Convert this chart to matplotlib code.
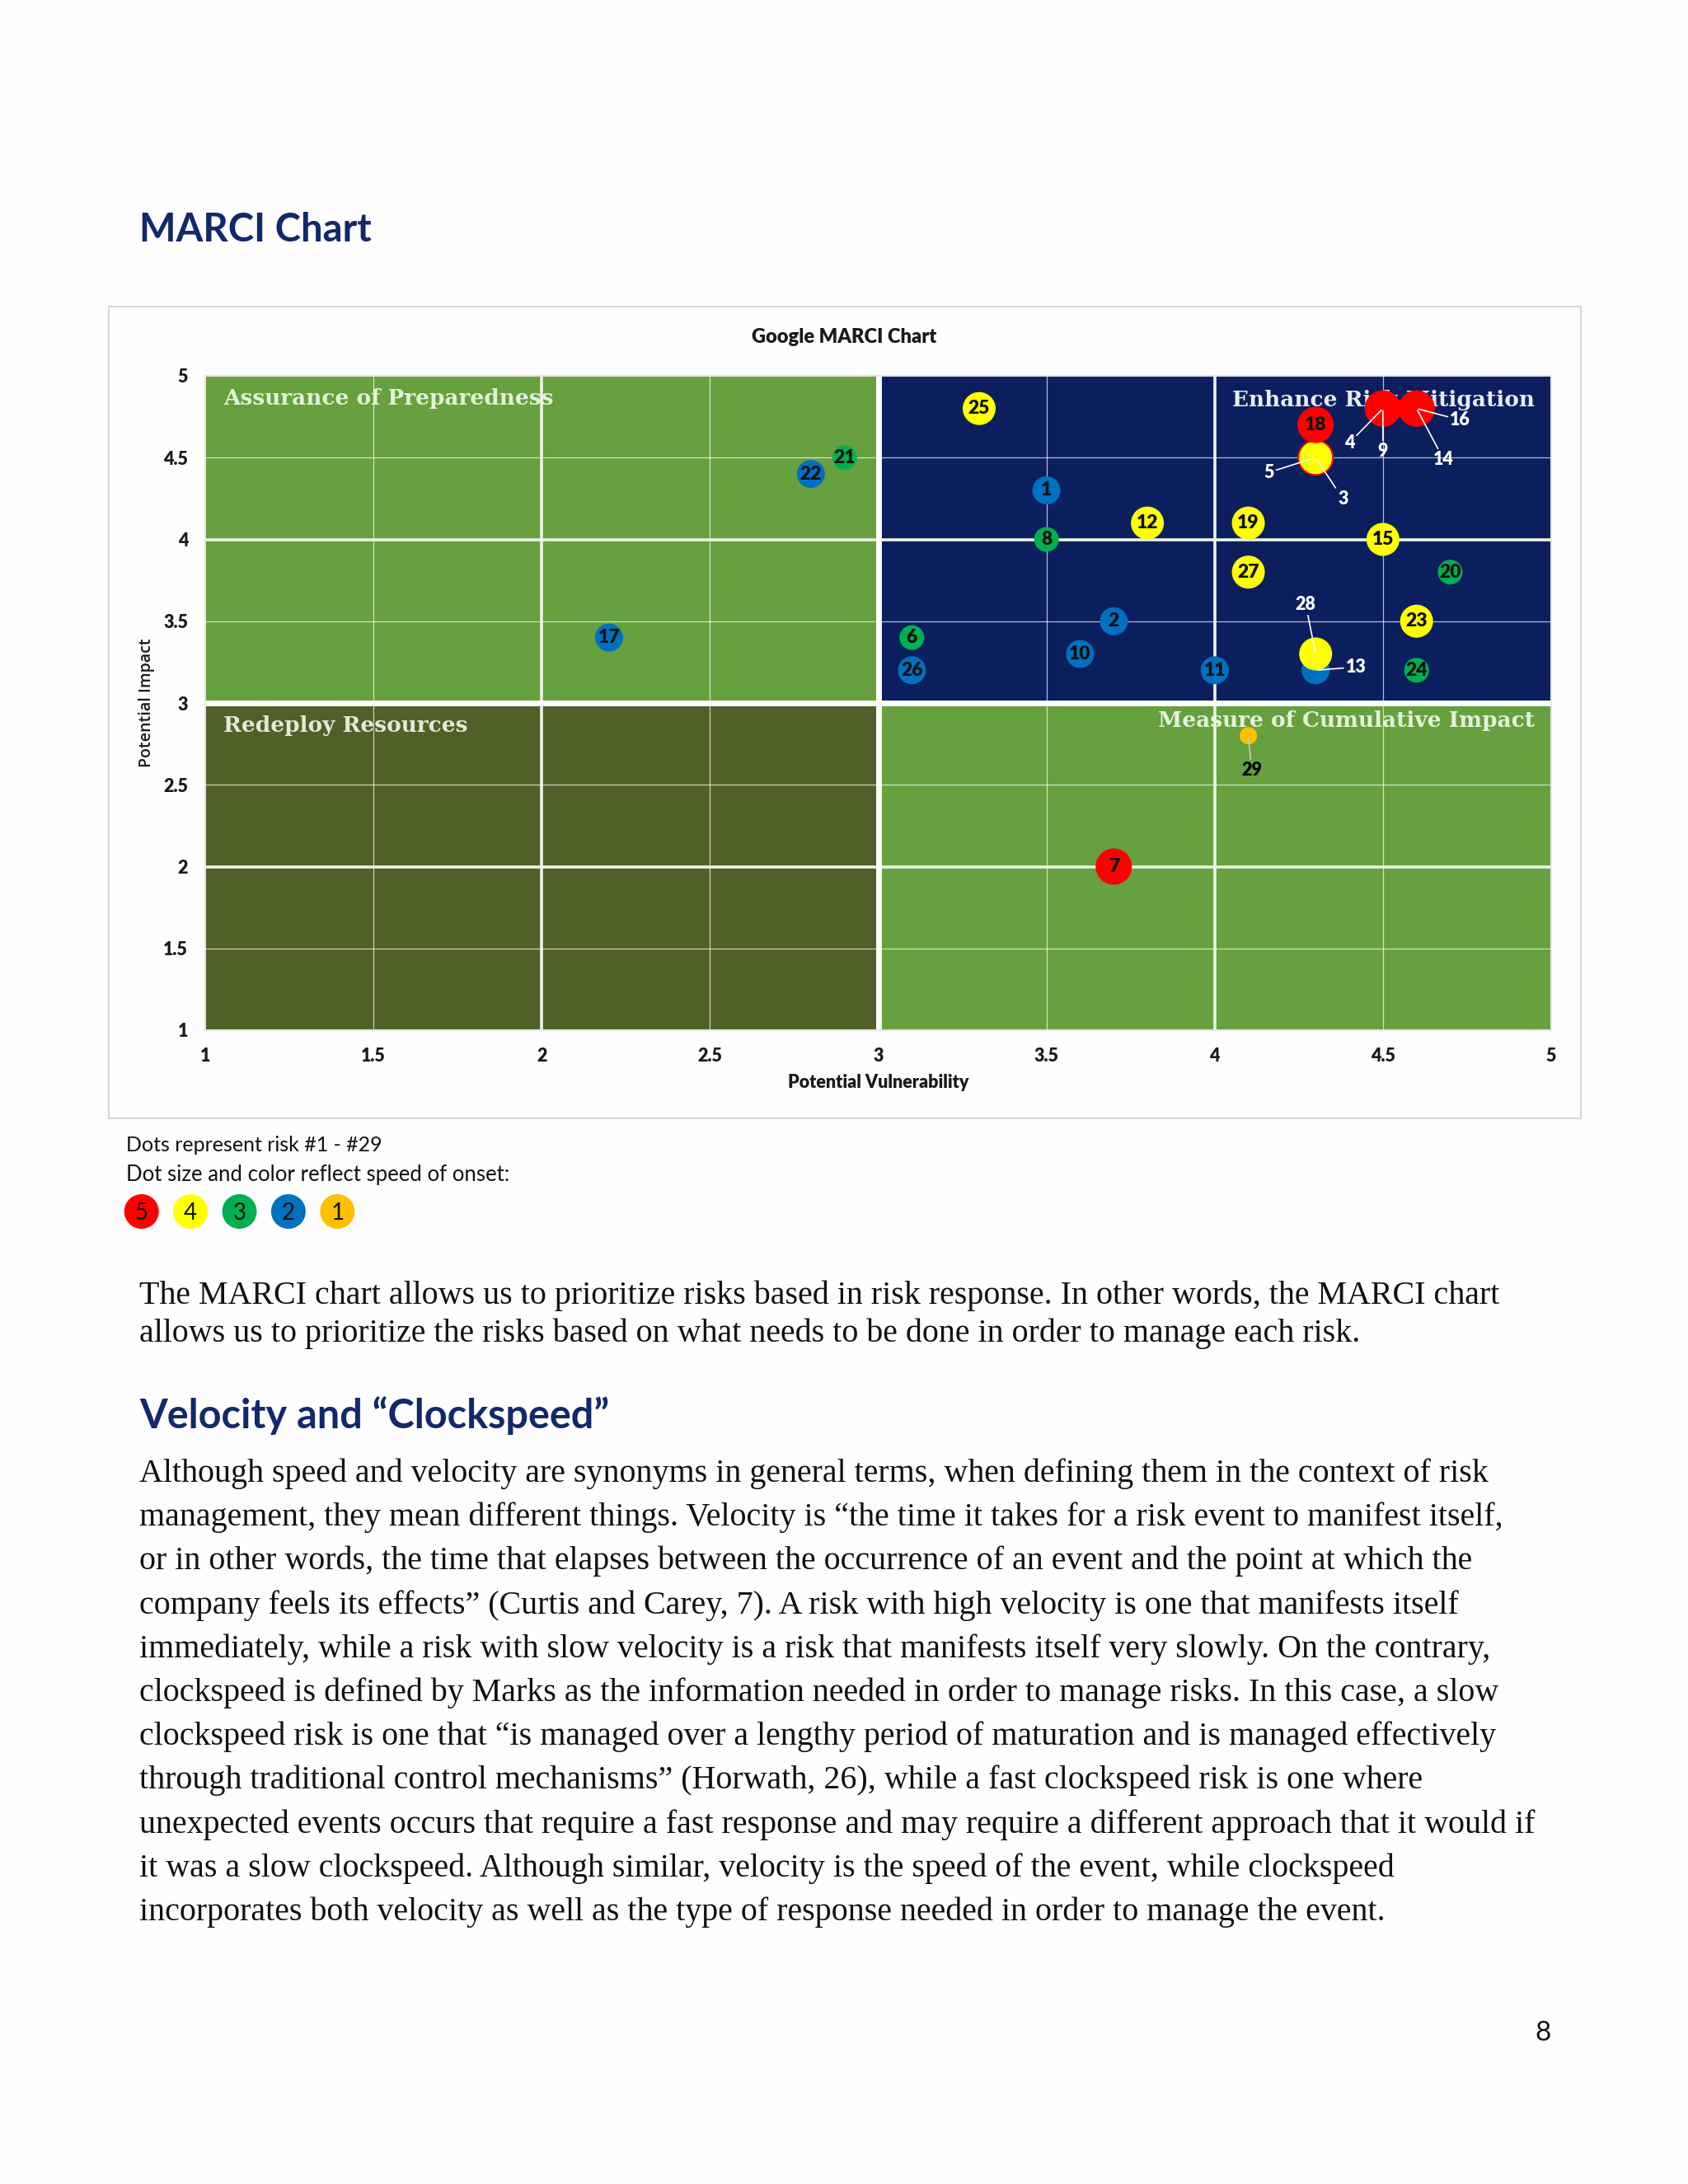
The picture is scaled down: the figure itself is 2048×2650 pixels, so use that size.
import numpy as np
import matplotlib.pyplot as plt
from matplotlib.patches import Rectangle

W, H = 2048, 2650

# --- data ---
risk_ids = list(range(1, 30))
vulnerability = [3.5, 3.7, 4.3, 4.5, 4.3, 3.1, 3.7, 3.5, 4.5, 3.6, 4.0, 3.8, 4.3, 4.6, 4.5,
                 4.6, 2.2, 4.3, 4.1, 4.7, 2.9, 2.8, 4.6, 4.6, 3.3, 3.1, 4.1, 4.3, 4.1]
impact = [4.3, 3.5, 4.5, 4.8, 4.5, 3.4, 2.0, 4.0, 4.8, 3.3, 3.2, 4.1, 3.2, 4.8, 4.0,
          4.8, 3.4, 4.7, 4.1, 3.8, 4.5, 4.4, 3.5, 3.2, 4.8, 3.2, 3.8, 3.3, 2.8]
speed = [2, 2, 5, 5, 4, 3, 5, 3, 5, 2, 2, 4, 2, 5, 4,
         5, 2, 5, 4, 3, 3, 2, 4, 3, 4, 2, 4, 4, 1]
legend_speeds = [5, 4, 3, 2, 1]
ticks = [1, 1.5, 2, 2.5, 3, 3.5, 4, 4.5, 5]
tick_labels = ['1', '1.5', '2', '2.5', '3', '3.5', '4', '4.5', '5']

# --- styles ---
speed_color = {5: '#ff0000', 4: '#ffff00', 3: '#00b050', 2: '#0070c0', 1: '#ffc000'}
speed_diam = {5: 44, 4: 40, 3: 30, 2: 34, 1: 21}   # px
NAVY = '#13286b'
SANS = ['Lato', 'DejaVu Sans']

# labels drawn outside the dot (offset in px, text colour)
callouts = {3: (33, -50, 'white'), 4: (-41, -42, 'white'), 5: (-57, -18, 'white'),
            9: (0, -52, 'white'), 13: (49, 4, 'white'), 14: (33, -62, 'white'),
            16: (53, -14, 'white'), 28: (-12, 60, 'white'), 29: (4, -42, 'black')}

plt.rcParams['font.family'] = SANS


def fx(x):
    return x / W


def fy(y):
    return 1 - y / H


fig = plt.figure(figsize=(W / 100, H / 100), dpi=100, facecolor='#fefefe')

# page heading
fig.text(fx(169), fy(293), 'MARCI Chart', fontsize=34, fontweight='bold', color=NAVY, va='baseline')

# chart frame
fig.add_artist(Rectangle((fx(132), fy(1357)), (1918 - 132) / W, (1357 - 372) / H,
                         transform=fig.transFigure, fill=False, ec='#d6d6d6', lw=1.5))
fig.text(fx(1024), fy(416), 'Google MARCI Chart', fontsize=17,
         fontweight='heavy', ha='center', va='baseline', color='#1a1a1a')

ax = fig.add_axes([fx(249), fy(1250), (1882 - 249) / W, (1250 - 456) / H])
ax.set_xlim(1, 5)
ax.set_ylim(1, 5)

quads = [((1, 3), '#67a03e'), ((3, 3), '#0b1f5f'), ((1, 1), '#4f6128'), ((3, 1), '#67a03e')]
for (x0, y0), c in quads:
    ax.add_patch(Rectangle((x0, y0), 2, 2, fc=c, ec='none', zorder=0))

for v in [1.5, 2.5, 3.5, 4.5]:
    ax.axvline(v, color='white', lw=0.9, alpha=0.7, zorder=1)
    ax.axhline(v, color='white', lw=0.9, alpha=0.7, zorder=1)
for v in [2, 4]:
    ax.axvline(v, color='#eef4e8', lw=2.6, zorder=1)
    ax.axhline(v, color='#eef4e8', lw=2.6, zorder=1)
ax.axvline(3, color='white', lw=5, zorder=1)
ax.axhline(3, color='white', lw=5, zorder=1)

qfont = dict(family=['DejaVu Serif'], fontsize=19, fontweight='bold', zorder=2)
ax.text(1.055, 4.86, 'Assurance of Preparedness', color='#e6f3da', ha='left', va='center', **qfont)
ax.text(4.95, 4.85, 'Enhance Risk Mitigation', color='#e9ebf2', ha='right', va='center', **qfont)
ax.text(1.054, 2.86, 'Redeploy Resources', color='#e2ead6', ha='left', va='center', **qfont)
ax.text(4.95, 2.89, 'Measure of Cumulative Impact', color='#e6f3da', ha='right', va='center', **qfont)

colors = [speed_color[s] for s in speed]
sizes = [(speed_diam[s] * 0.72) ** 2 for s in speed]
ax.scatter(vulnerability, impact, s=sizes, c=colors, edgecolors='none', zorder=3)

for rid, x, y in zip(risk_ids, vulnerability, impact):
    if rid in callouts:
        dx, dy, tc = callouts[rid]
        lc = 'white' if tc == 'white' else '#c8c8c8'
        ax.annotate(str(rid), xy=(x, y), xytext=(dx * 0.72, dy * 0.72), textcoords='offset points',
                    ha='center', va='center', color=tc, fontsize=15.5,
                    fontweight='heavy', zorder=5,
                    arrowprops=dict(arrowstyle='-', color=lc, lw=1.2, shrinkA=0, shrinkB=2))
    else:
        ax.text(x, y, str(rid), ha='center', va='center', fontsize=16.5,
                fontweight='heavy', color='#101010', zorder=4)

ax.set_xticks(ticks)
ax.set_xticklabels(tick_labels)
ax.set_yticks(ticks)
ax.set_yticklabels(tick_labels)
ax.tick_params(length=0, labelsize=15.5, colors='#1a1a1a')
ax.tick_params(axis='x', pad=15)
ax.tick_params(axis='y', pad=15)
for lab in ax.get_xticklabels() + ax.get_yticklabels():
    lab.set_fontweight('heavy')
for sp in ax.spines.values():
    sp.set_color('#e4e4e4')
    sp.set_linewidth(1.5)

fig.text(fx(1066), fy(1320), 'Potential Vulnerability', fontsize=15.5,
         fontweight='heavy', ha='center', va='baseline', color='#1a1a1a')
fig.text(fx(178), fy(853), 'Potential Impact', family=['Open Sans', 'DejaVu Sans'], fontsize=14,
         fontweight='semibold', rotation=90, ha='center', va='center', color='#1a1a1a')

# legend under the chart
fig.text(fx(153), fy(1397), 'Dots represent risk #1 - #29', fontsize=18, va='baseline', color='#111111')
fig.text(fx(153), fy(1433), 'Dot size and color reflect speed of onset:', fontsize=18.5,
         va='baseline', color='#111111')
lax = fig.add_axes([fx(142), fy(1500), 297 / W, 60 / H])
lax.set_xlim(-0.5, 4.5)
lax.set_ylim(-1, 1)
lax.axis('off')
lpos = np.arange(len(legend_speeds))
lax.scatter(lpos, np.zeros(len(lpos)), s=(42 * 0.72) ** 2,
            c=[speed_color[s] for s in legend_speeds], edgecolors='none')
for p, s in zip(lpos, legend_speeds):
    lax.text(p, -0.05, str(s), ha='center', va='center', fontsize=20, color='#111111')

# body text
body_font = dict(family=['Liberation Serif', 'DejaVu Serif'], fontsize=28.8, va='baseline', color='#111111')
para1 = [
    'The MARCI chart allows us to prioritize risks based in risk response. In other words, the MARCI chart',
    'allows us to prioritize the risks based on what needs to be done in order to manage each risk.',
]
for i, line in enumerate(para1):
    fig.text(fx(169), fy(1582 + 46 * i), line, **body_font)

fig.text(fx(169), fy(1733), 'Velocity and \u201cClockspeed\u201d', fontsize=35, fontweight='bold',
         color=NAVY, va='baseline')

para2 = [
    'Although speed and velocity are synonyms in general terms, when defining them in the context of risk',
    'management, they mean different things. Velocity is \u201cthe time it takes for a risk event to manifest itself,',
    'or in other words, the time that elapses between the occurrence of an event and the point at which the',
    'company feels its effects\u201d (Curtis and Carey, 7). A risk with high velocity is one that manifests itself',
    'immediately, while a risk with slow velocity is a risk that manifests itself very slowly. On the contrary,',
    'clockspeed is defined by Marks as the information needed in order to manage risks. In this case, a slow',
    'clockspeed risk is one that \u201cis managed over a lengthy period of maturation and is managed effectively',
    'through traditional control mechanisms\u201d (Horwath, 26), while a fast clockspeed risk is one where',
    'unexpected events occurs that require a fast response and may require a different approach that it would if',
    'it was a slow clockspeed. Although similar, velocity is the speed of the event, while clockspeed',
    'incorporates both velocity as well as the type of response needed in order to manage the event.',
]
for i, line in enumerate(para2):
    fig.text(fx(169), fy(1798 + 53.2 * i), line, **body_font)

fig.text(fx(1872), fy(2476), '8', fontsize=24, ha='center', va='baseline', color='#111111')

fig.savefig('out.png', dpi=100, facecolor=fig.get_facecolor())
